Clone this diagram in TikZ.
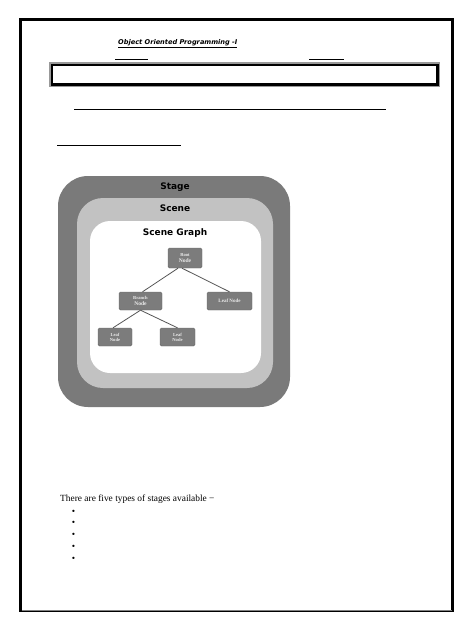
\documentclass[tikz,border=0pt]{standalone}
\usepackage{fontspec}
\setmainfont{Liberation Serif}
\newfontfamily\dvsans{DejaVu Sans}
\begin{document}
\begin{tikzpicture}[x=1pt,y=-1pt,
  container/.style={rectangle,rounded corners=#1,inner sep=0pt,draw=none},
  treebox/.style={rectangle,rounded corners=1.5pt,fill=nodegray,draw=nodegray!85!black,line width=0.4pt,
    inner sep=0pt,minimum height=18pt,text=white!92!black,align=center,
    font=\fontsize{4.6}{5.2}\selectfont\bfseries},
  layerlabel/.style={font=\dvsans\bfseries\fontsize{9}{10}\selectfont,inner sep=0pt},
  link/.style={draw=linkgray,line width=0.8pt},
  rule/.style={line width=0.8pt},
  bul/.style={inner sep=0pt,font=\fontsize{9.5}{10}\selectfont}]
\definecolor{stagegray}{HTML}{7A7A7A}
\definecolor{scenegray}{HTML}{C2C2C2}
\definecolor{nodegray}{HTML}{7C7C7C}
\definecolor{linkgray}{HTML}{555555}
\useasboundingbox (0,0) rectangle (474,632);
\fill[white] (0,0) rectangle (474,632);
% page border
\draw[line width=2.4pt,black] (20.5,19.5) rectangle (452.5,611);
\draw[line width=1pt,gray] (21.5,610.6) -- (451.5,610.6);
% header
\node[inner sep=0pt,anchor=west,font=\dvsans\bfseries\itshape\fontsize{6.6}{7}\selectfont] (title) at (118,43.5) {\underline{Object Oriented Programming -I}};
\coordinate (s1a) at (115,59); \coordinate (s1b) at (148,59);
\coordinate (s2a) at (309,59); \coordinate (s2b) at (344,59);
\draw[line width=0.6pt] (s1a) -- (s1b);
\draw[line width=0.6pt] (s2a) -- (s2b);
\draw[line width=3pt,gray!80] (50.5,63.5) rectangle (438.5,85.5);
\draw[line width=2.6pt,black] (51.8,64.8) rectangle (437.2,84.2);
\coordinate (l1a) at (74,109.5); \coordinate (l1b) at (386,109.5);
\draw[rule] (l1a) -- (l1b);
\coordinate (l2a) at (57,145.5); \coordinate (l2b) at (181,145.5);
\draw[rule] (l2a) -- (l2b);
% diagram containers
\node[container=30pt,fill=stagegray,minimum width=232pt,minimum height=231pt] (stage) at (174,291.5) {};
\node[container=26pt,fill=scenegray,minimum width=196pt,minimum height=190pt] (scene) at (175,293) {};
\node[container=20pt,fill=white,minimum width=171pt,minimum height=152pt] (graph) at (175.5,297) {};
\node[layerlabel] (stagelbl) at (175,187) {Stage};
\node[layerlabel] (scenelbl) at (175,208.5) {Scene};
\node[layerlabel] (graphlbl) at (175,233) {Scene Graph};
% tree
\node[treebox,minimum width=34pt,minimum height=20pt] (root) at (185,258) {Root\\{\fontsize{5.6}{5.6}\selectfont Node}};
\node[treebox,minimum width=43pt] (branch) at (140.5,301) {Branch\\{\fontsize{5.6}{5.6}\selectfont Node}};
\node[treebox,minimum width=45pt] (leafr) at (229.5,301) {\fontsize{5}{5}\selectfont Leaf Node};
\node[treebox,minimum width=34pt] (leafl) at (115,337) {Leaf\\Node};
\node[treebox,minimum width=35pt] (leafm) at (177.5,337) {Leaf\\Node};
\draw[link] ([xshift=-7pt]root.south) -- ([xshift=2pt]branch.north);
\draw[link] ([xshift=-3pt]root.south) -- (leafr.north);
\draw[link] (branch.south) -- ([xshift=-2pt]leafl.north);
\draw[link] (branch.south) -- (leafm.north);
% text
\node[inner sep=0pt,anchor=west,font=\fontsize{9.4}{10}\selectfont] (intro) at (60,499) {There are five types of stages available −};
\node[bul] (b1) at (73.5,512) {\textbullet};
\node[bul] (b2) at (73.5,523.8) {\textbullet};
\node[bul] (b3) at (73.5,535.6) {\textbullet};
\node[bul] (b4) at (73.5,547.4) {\textbullet};
\node[bul] (b5) at (73.5,559.2) {\textbullet};
\end{tikzpicture}
\end{document}
